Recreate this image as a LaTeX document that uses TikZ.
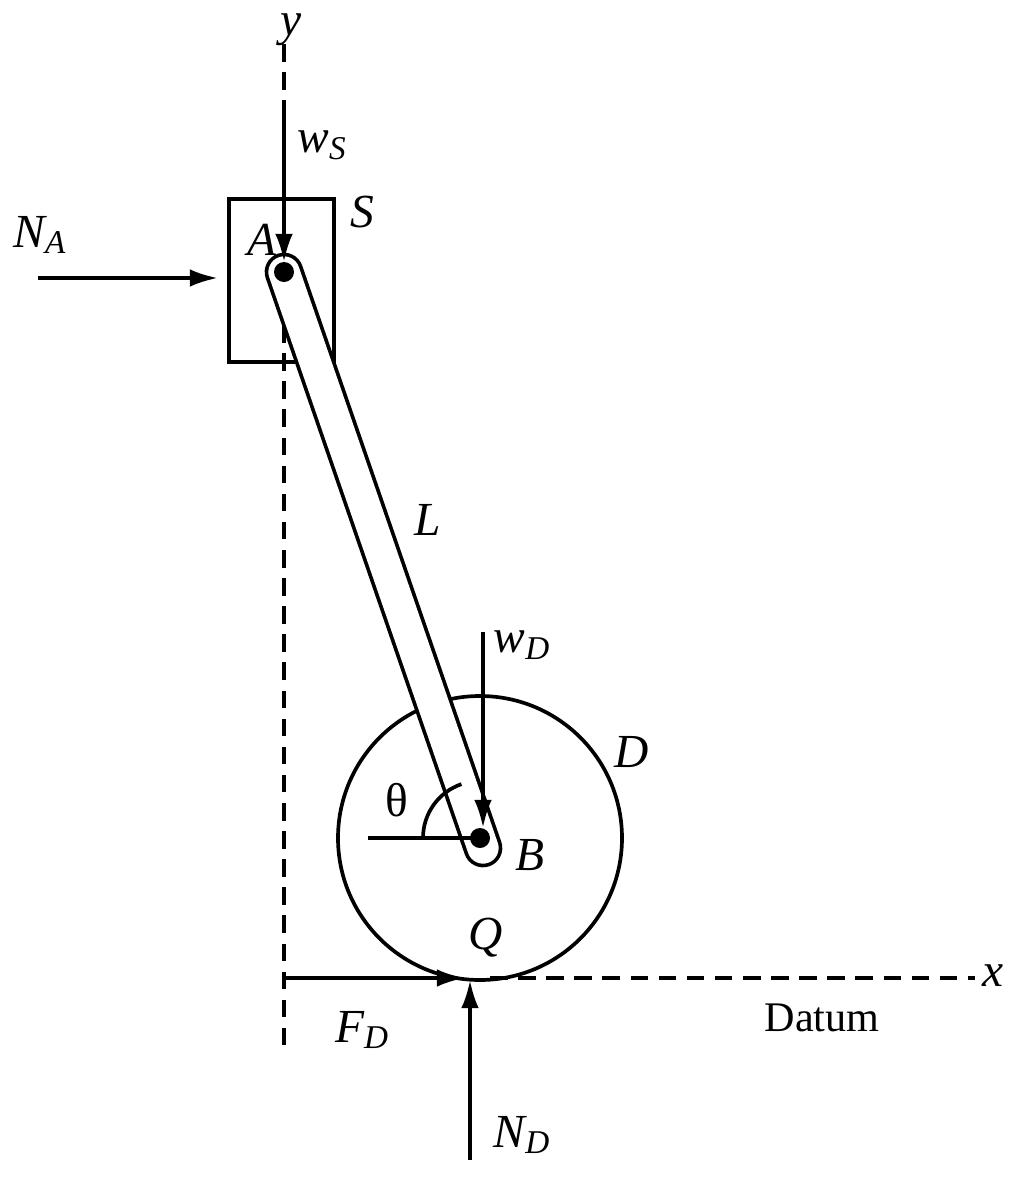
\documentclass[tikz,border=0pt]{standalone}
\usepackage{fontspec}
\setmainfont{Liberation Serif}
\usetikzlibrary{arrows.meta}
\tikzset{
  lbl/.style={font=\fontsize{27}{30}\selectfont\itshape, inner sep=0pt},
  force/.style={line width=2.1pt, -{Latex[length=16pt, width=10pt]}},
  axis/.style={line width=1.8pt, dash pattern=on 10pt off 6pt}
}
\begin{document}
\begin{tikzpicture}[x=0.02cm, y=-0.02cm]
    \useasboundingbox (0,0) rectangle (1016,1177);

    % Axes
    \draw[axis] (284,44) -- (284,1050);
    \draw[axis] (490,978) -- (975,978);
    \node[lbl] (ylab) at (291,30) {y};
    \node[lbl] (xlab) at (993,976) {x};
    \node[font=\fontsize{24}{26}\selectfont, inner sep=0pt] (datum) at (822,1018) {Datum};

    % Points
    \coordinate (A) at (284,272);
    \coordinate (B) at (480,838);
    \coordinate (Bend) at (483,848);
    \coordinate (Q) at (470,980);

    % Slider block and disc
    \draw[line width=2.1pt] (229,199) rectangle (334,362);
    \draw[line width=2.1pt] (B) circle (142);

    % Rod
    \draw[line width=22pt, line cap=round] (A) -- (Bend);
    \draw[line width=17.8pt, line cap=round, white] (A) -- (Bend);
    \fill (A) circle (10);
    \fill (B) circle (10);

    % Angle
    \coordinate (T) at (368,838);
    \draw[line width=2.1pt] (T) -- (B);
    \draw[line width=2.1pt] (B) ++(-180:57) arc[start angle=-180, end angle=-109, radius=57];
    \node[font=\fontsize{27}{30}\selectfont, inner sep=0pt] (theta) at (397,800) {θ};

    % Forces
    \coordinate (wS) at (284,100);
    \coordinate (NA) at (38,278);
    \coordinate (wD) at (483,632);
    \coordinate (ND) at (470,1160);
    \coordinate (O) at (284,978);
    \draw[force] (wS) -- (284,262);
    \draw[force] (NA) -- (218,278);
    \draw[force] (wD) -- (483,828);
    \draw[force] (ND) -- (Q);
    \draw[force] (O) -- (465,978);

    % Labels
    \node[lbl] at (322,145) {w\textsubscript{S}};
    \node[lbl] at (40,235) {N\textsubscript{A}};
    \node[lbl] at (362,212) {S};
    \node[lbl] at (262,240) {A};
    \node[lbl] at (428,520) {L};
    \node[lbl] at (522,645) {w\textsubscript{D}};
    \node[lbl] at (632,752) {D};
    \node[lbl] at (530,855) {B};
    \node[lbl] at (486,938) {Q};
    \node[lbl] at (362,1030) {F\textsubscript{D}};
    \node[lbl] at (522,1135) {N\textsubscript{D}};
\end{tikzpicture}
\end{document}
